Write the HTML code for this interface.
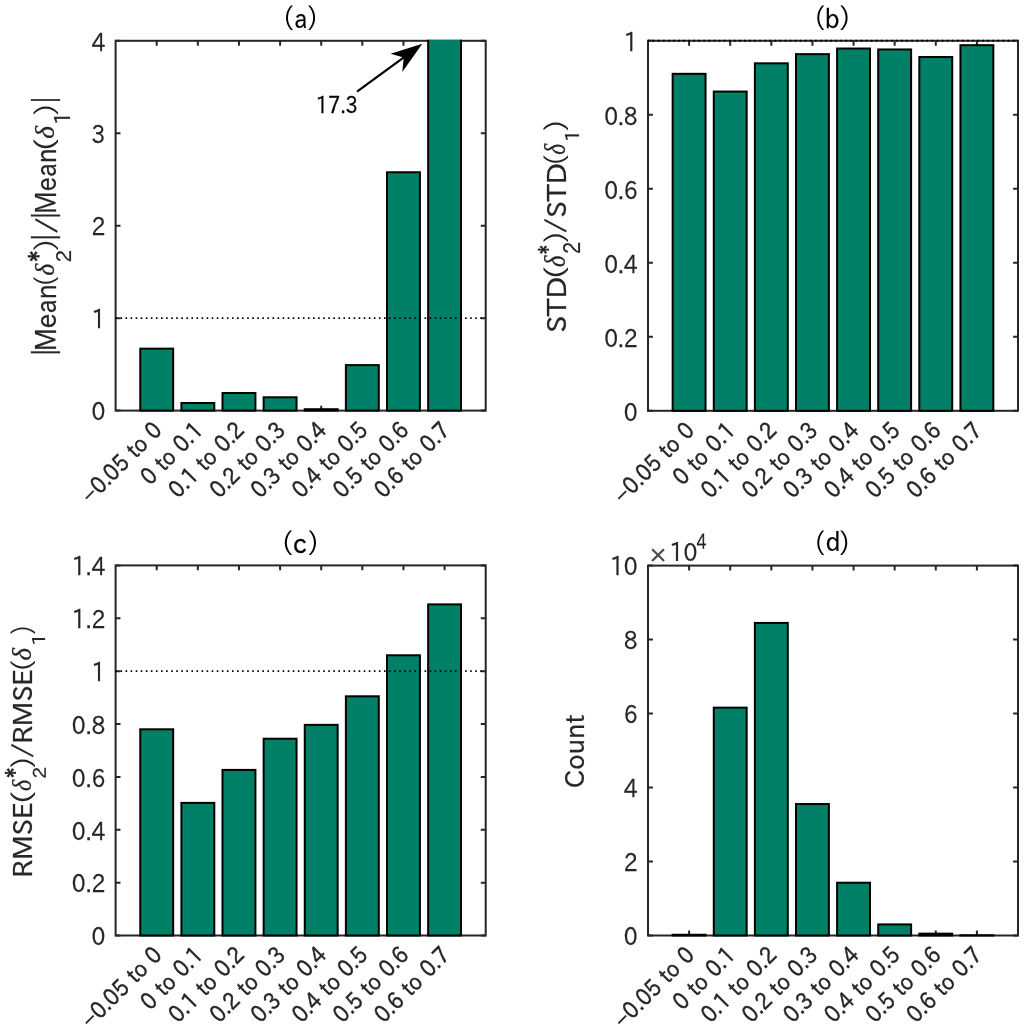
<!DOCTYPE html>
<html><head><meta charset="utf-8"><title>Figure</title>
<style>
html,body{margin:0;padding:0;background:#fff;overflow:hidden}
svg{display:block}
.t{fill:#262626}
.k{fill:#000}
.t,.k{stroke-width:0.25}
.t{stroke:#262626}
.k{stroke:#000}
.t.sx{stroke-width:0.45;word-spacing:1.6px}
.tx{fill:#4a4a4a}
.np{stroke:none}
</style></head><body>
<svg width="1024" height="1031" viewBox="0 0 1024 1031">
<rect width="1024" height="1031" fill="#fff"/>
<g id="axa">
<rect x="115.6" y="40.8" width="370.1" height="369.8" fill="none" stroke="#262626" stroke-width="2.0"/>
<path d="M156.722 410.6v-4.9M156.722 40.8v4.9M197.844 410.6v-4.9M197.844 40.8v4.9M238.967 410.6v-4.9M238.967 40.8v4.9M280.089 410.6v-4.9M280.089 40.8v4.9M321.211 410.6v-4.9M321.211 40.8v4.9M362.333 410.6v-4.9M362.333 40.8v4.9M403.456 410.6v-4.9M403.456 40.8v4.9M444.578 410.6v-4.9M444.578 40.8v4.9M115.6 410.6h4.9M485.7 410.6h-4.9M115.6 318.15h4.9M485.7 318.15h-4.9M115.6 225.7h4.9M485.7 225.7h-4.9M115.6 133.25h4.9M485.7 133.25h-4.9M115.6 40.8h4.9M485.7 40.8h-4.9" stroke="#262626" stroke-width="2.0" fill="none"/>
<clipPath id="cpa"><rect x="114.6" y="39.7" width="372.1" height="372.8"/></clipPath>
<g clip-path="url(#cpa)" fill="#008066" stroke="#000" stroke-width="2.0">
<rect x="140.273" y="348.659" width="32.898" height="61.942"/>
<rect x="181.396" y="403.019" width="32.898" height="7.581"/>
<rect x="222.518" y="393.035" width="32.898" height="17.565"/>
<rect x="263.64" y="397.287" width="32.898" height="13.313"/>
<rect x="304.762" y="409.213" width="32.898" height="1.387"/>
<rect x="345.884" y="365.115" width="32.898" height="45.485"/>
<rect x="387.007" y="172.264" width="32.898" height="238.336"/>
<rect x="428.129" y="35.8" width="32.898" height="374.8"/>
</g>
<line x1="115.6" y1="318.15" x2="485.7" y2="318.15" stroke="#000" stroke-width="1.9" stroke-dasharray="1.6 3.468" stroke-dashoffset="0.206"/>
<text class="t" transform="translate(105.3,420.35) scale(0.89,1)" font-size="24.7" font-family='"IPAPGothic","IPAGothic","Noto Sans CJK JP",sans-serif' text-anchor="end">0</text>
<text class="t" transform="translate(105.3,327.9) scale(0.89,1)" font-size="24.7" font-family='"IPAPGothic","IPAGothic","Noto Sans CJK JP",sans-serif' text-anchor="end">1</text>
<text class="t" transform="translate(105.3,235.45) scale(0.89,1)" font-size="24.7" font-family='"IPAPGothic","IPAGothic","Noto Sans CJK JP",sans-serif' text-anchor="end">2</text>
<text class="t" transform="translate(105.3,143) scale(0.89,1)" font-size="24.7" font-family='"IPAPGothic","IPAGothic","Noto Sans CJK JP",sans-serif' text-anchor="end">3</text>
<text class="t" transform="translate(105.3,50.55) scale(0.89,1)" font-size="24.7" font-family='"IPAPGothic","IPAGothic","Noto Sans CJK JP",sans-serif' text-anchor="end">4</text>
<text class="t sx" transform="translate(163.422,431.6) rotate(-45) scale(0.88,1)" font-size="23.25" font-family='"IPAPGothic","IPAGothic","Noto Sans CJK JP",sans-serif' text-anchor="end">−0.05 to 0</text>
<text class="t sx" transform="translate(204.544,431.6) rotate(-45) scale(0.88,1)" font-size="23.25" font-family='"IPAPGothic","IPAGothic","Noto Sans CJK JP",sans-serif' text-anchor="end">0 to 0.1</text>
<text class="t sx" transform="translate(245.667,431.6) rotate(-45) scale(0.88,1)" font-size="23.25" font-family='"IPAPGothic","IPAGothic","Noto Sans CJK JP",sans-serif' text-anchor="end">0.1 to 0.2</text>
<text class="t sx" transform="translate(286.789,431.6) rotate(-45) scale(0.88,1)" font-size="23.25" font-family='"IPAPGothic","IPAGothic","Noto Sans CJK JP",sans-serif' text-anchor="end">0.2 to 0.3</text>
<text class="t sx" transform="translate(327.911,431.6) rotate(-45) scale(0.88,1)" font-size="23.25" font-family='"IPAPGothic","IPAGothic","Noto Sans CJK JP",sans-serif' text-anchor="end">0.3 to 0.4</text>
<text class="t sx" transform="translate(369.033,431.6) rotate(-45) scale(0.88,1)" font-size="23.25" font-family='"IPAPGothic","IPAGothic","Noto Sans CJK JP",sans-serif' text-anchor="end">0.4 to 0.5</text>
<text class="t sx" transform="translate(410.156,431.6) rotate(-45) scale(0.88,1)" font-size="23.25" font-family='"IPAPGothic","IPAGothic","Noto Sans CJK JP",sans-serif' text-anchor="end">0.5 to 0.6</text>
<text class="t sx" transform="translate(451.278,431.6) rotate(-45) scale(0.88,1)" font-size="23.25" font-family='"IPAPGothic","IPAGothic","Noto Sans CJK JP",sans-serif' text-anchor="end">0.6 to 0.7</text>
</g>
<g id="axb">
<rect x="648" y="40.75" width="370" height="370.05" fill="none" stroke="#262626" stroke-width="2.0"/>
<path d="M689.111 410.8v-4.9M689.111 40.75v4.9M730.222 410.8v-4.9M730.222 40.75v4.9M771.333 410.8v-4.9M771.333 40.75v4.9M812.444 410.8v-4.9M812.444 40.75v4.9M853.556 410.8v-4.9M853.556 40.75v4.9M894.667 410.8v-4.9M894.667 40.75v4.9M935.778 410.8v-4.9M935.778 40.75v4.9M976.889 410.8v-4.9M976.889 40.75v4.9M648 410.8h4.9M1018 410.8h-4.9M648 336.79h4.9M1018 336.79h-4.9M648 262.78h4.9M1018 262.78h-4.9M648 188.77h4.9M1018 188.77h-4.9M648 114.76h4.9M1018 114.76h-4.9M648 40.75h4.9M1018 40.75h-4.9" stroke="#262626" stroke-width="2.0" fill="none"/>
<clipPath id="cpb"><rect x="647" y="39.65" width="372" height="373.05"/></clipPath>
<g clip-path="url(#cpb)" fill="#008066" stroke="#000" stroke-width="2.0">
<rect x="672.667" y="73.832" width="32.889" height="336.968"/>
<rect x="713.778" y="91.558" width="32.889" height="319.242"/>
<rect x="754.889" y="63.323" width="32.889" height="347.477"/>
<rect x="796" y="54.146" width="32.889" height="356.654"/>
<rect x="837.111" y="48.521" width="32.889" height="362.279"/>
<rect x="878.222" y="49.446" width="32.889" height="361.354"/>
<rect x="919.333" y="57.032" width="32.889" height="353.768"/>
<rect x="960.444" y="45.191" width="32.889" height="365.609"/>
</g>
<line x1="648" y1="40.75" x2="1018" y2="40.75" stroke="#000" stroke-width="1.9" stroke-dasharray="1.6 3.468" stroke-dashoffset="0.206"/>
<text class="t" transform="translate(637.7,420.55) scale(0.89,1)" font-size="24.7" font-family='"IPAPGothic","IPAGothic","Noto Sans CJK JP",sans-serif' text-anchor="end">0</text>
<text class="t" transform="translate(637.7,346.54) scale(0.89,1)" font-size="24.7" font-family='"IPAPGothic","IPAGothic","Noto Sans CJK JP",sans-serif' text-anchor="end">0.2</text>
<text class="t" transform="translate(637.7,272.53) scale(0.89,1)" font-size="24.7" font-family='"IPAPGothic","IPAGothic","Noto Sans CJK JP",sans-serif' text-anchor="end">0.4</text>
<text class="t" transform="translate(637.7,198.52) scale(0.89,1)" font-size="24.7" font-family='"IPAPGothic","IPAGothic","Noto Sans CJK JP",sans-serif' text-anchor="end">0.6</text>
<text class="t" transform="translate(637.7,124.51) scale(0.89,1)" font-size="24.7" font-family='"IPAPGothic","IPAGothic","Noto Sans CJK JP",sans-serif' text-anchor="end">0.8</text>
<text class="t" transform="translate(637.7,50.5) scale(0.89,1)" font-size="24.7" font-family='"IPAPGothic","IPAGothic","Noto Sans CJK JP",sans-serif' text-anchor="end">1</text>
<text class="t sx" transform="translate(695.811,431.8) rotate(-45) scale(0.88,1)" font-size="23.25" font-family='"IPAPGothic","IPAGothic","Noto Sans CJK JP",sans-serif' text-anchor="end">−0.05 to 0</text>
<text class="t sx" transform="translate(736.922,431.8) rotate(-45) scale(0.88,1)" font-size="23.25" font-family='"IPAPGothic","IPAGothic","Noto Sans CJK JP",sans-serif' text-anchor="end">0 to 0.1</text>
<text class="t sx" transform="translate(778.033,431.8) rotate(-45) scale(0.88,1)" font-size="23.25" font-family='"IPAPGothic","IPAGothic","Noto Sans CJK JP",sans-serif' text-anchor="end">0.1 to 0.2</text>
<text class="t sx" transform="translate(819.144,431.8) rotate(-45) scale(0.88,1)" font-size="23.25" font-family='"IPAPGothic","IPAGothic","Noto Sans CJK JP",sans-serif' text-anchor="end">0.2 to 0.3</text>
<text class="t sx" transform="translate(860.256,431.8) rotate(-45) scale(0.88,1)" font-size="23.25" font-family='"IPAPGothic","IPAGothic","Noto Sans CJK JP",sans-serif' text-anchor="end">0.3 to 0.4</text>
<text class="t sx" transform="translate(901.367,431.8) rotate(-45) scale(0.88,1)" font-size="23.25" font-family='"IPAPGothic","IPAGothic","Noto Sans CJK JP",sans-serif' text-anchor="end">0.4 to 0.5</text>
<text class="t sx" transform="translate(942.478,431.8) rotate(-45) scale(0.88,1)" font-size="23.25" font-family='"IPAPGothic","IPAGothic","Noto Sans CJK JP",sans-serif' text-anchor="end">0.5 to 0.6</text>
<text class="t sx" transform="translate(983.589,431.8) rotate(-45) scale(0.88,1)" font-size="23.25" font-family='"IPAPGothic","IPAGothic","Noto Sans CJK JP",sans-serif' text-anchor="end">0.6 to 0.7</text>
</g>
<g id="axc">
<rect x="115.6" y="565.4" width="370.1" height="370.1" fill="none" stroke="#262626" stroke-width="2.0"/>
<path d="M156.722 935.5v-4.9M156.722 565.4v4.9M197.844 935.5v-4.9M197.844 565.4v4.9M238.967 935.5v-4.9M238.967 565.4v4.9M280.089 935.5v-4.9M280.089 565.4v4.9M321.211 935.5v-4.9M321.211 565.4v4.9M362.333 935.5v-4.9M362.333 565.4v4.9M403.456 935.5v-4.9M403.456 565.4v4.9M444.578 935.5v-4.9M444.578 565.4v4.9M115.6 935.5h4.9M485.7 935.5h-4.9M115.6 882.629h4.9M485.7 882.629h-4.9M115.6 829.757h4.9M485.7 829.757h-4.9M115.6 776.886h4.9M485.7 776.886h-4.9M115.6 724.014h4.9M485.7 724.014h-4.9M115.6 671.143h4.9M485.7 671.143h-4.9M115.6 618.271h4.9M485.7 618.271h-4.9M115.6 565.4h4.9M485.7 565.4h-4.9" stroke="#262626" stroke-width="2.0" fill="none"/>
<clipPath id="cpc"><rect x="114.6" y="564.3" width="372.1" height="373.1"/></clipPath>
<g clip-path="url(#cpc)" fill="#008066" stroke="#000" stroke-width="2.0">
<rect x="140.273" y="729.301" width="32.898" height="206.199"/>
<rect x="181.396" y="802.898" width="32.898" height="132.602"/>
<rect x="222.518" y="769.907" width="32.898" height="165.593"/>
<rect x="263.64" y="738.713" width="32.898" height="196.787"/>
<rect x="304.762" y="724.86" width="32.898" height="210.64"/>
<rect x="345.884" y="696.31" width="32.898" height="239.19"/>
<rect x="387.007" y="655.281" width="32.898" height="280.219"/>
<rect x="428.129" y="604.393" width="32.898" height="331.107"/>
</g>
<line x1="115.6" y1="671.143" x2="485.7" y2="671.143" stroke="#000" stroke-width="1.9" stroke-dasharray="1.6 3.468" stroke-dashoffset="0.206"/>
<text class="t" transform="translate(105.3,945.25) scale(0.89,1)" font-size="24.7" font-family='"IPAPGothic","IPAGothic","Noto Sans CJK JP",sans-serif' text-anchor="end">0</text>
<text class="t" transform="translate(105.3,892.379) scale(0.89,1)" font-size="24.7" font-family='"IPAPGothic","IPAGothic","Noto Sans CJK JP",sans-serif' text-anchor="end">0.2</text>
<text class="t" transform="translate(105.3,839.507) scale(0.89,1)" font-size="24.7" font-family='"IPAPGothic","IPAGothic","Noto Sans CJK JP",sans-serif' text-anchor="end">0.4</text>
<text class="t" transform="translate(105.3,786.636) scale(0.89,1)" font-size="24.7" font-family='"IPAPGothic","IPAGothic","Noto Sans CJK JP",sans-serif' text-anchor="end">0.6</text>
<text class="t" transform="translate(105.3,733.764) scale(0.89,1)" font-size="24.7" font-family='"IPAPGothic","IPAGothic","Noto Sans CJK JP",sans-serif' text-anchor="end">0.8</text>
<text class="t" transform="translate(105.3,680.893) scale(0.89,1)" font-size="24.7" font-family='"IPAPGothic","IPAGothic","Noto Sans CJK JP",sans-serif' text-anchor="end">1</text>
<text class="t" transform="translate(105.3,628.021) scale(0.89,1)" font-size="24.7" font-family='"IPAPGothic","IPAGothic","Noto Sans CJK JP",sans-serif' text-anchor="end">1.2</text>
<text class="t" transform="translate(105.3,575.15) scale(0.89,1)" font-size="24.7" font-family='"IPAPGothic","IPAGothic","Noto Sans CJK JP",sans-serif' text-anchor="end">1.4</text>
<text class="t sx" transform="translate(163.422,956.5) rotate(-45) scale(0.88,1)" font-size="23.25" font-family='"IPAPGothic","IPAGothic","Noto Sans CJK JP",sans-serif' text-anchor="end">−0.05 to 0</text>
<text class="t sx" transform="translate(204.544,956.5) rotate(-45) scale(0.88,1)" font-size="23.25" font-family='"IPAPGothic","IPAGothic","Noto Sans CJK JP",sans-serif' text-anchor="end">0 to 0.1</text>
<text class="t sx" transform="translate(245.667,956.5) rotate(-45) scale(0.88,1)" font-size="23.25" font-family='"IPAPGothic","IPAGothic","Noto Sans CJK JP",sans-serif' text-anchor="end">0.1 to 0.2</text>
<text class="t sx" transform="translate(286.789,956.5) rotate(-45) scale(0.88,1)" font-size="23.25" font-family='"IPAPGothic","IPAGothic","Noto Sans CJK JP",sans-serif' text-anchor="end">0.2 to 0.3</text>
<text class="t sx" transform="translate(327.911,956.5) rotate(-45) scale(0.88,1)" font-size="23.25" font-family='"IPAPGothic","IPAGothic","Noto Sans CJK JP",sans-serif' text-anchor="end">0.3 to 0.4</text>
<text class="t sx" transform="translate(369.033,956.5) rotate(-45) scale(0.88,1)" font-size="23.25" font-family='"IPAPGothic","IPAGothic","Noto Sans CJK JP",sans-serif' text-anchor="end">0.4 to 0.5</text>
<text class="t sx" transform="translate(410.156,956.5) rotate(-45) scale(0.88,1)" font-size="23.25" font-family='"IPAPGothic","IPAGothic","Noto Sans CJK JP",sans-serif' text-anchor="end">0.5 to 0.6</text>
<text class="t sx" transform="translate(451.278,956.5) rotate(-45) scale(0.88,1)" font-size="23.25" font-family='"IPAPGothic","IPAGothic","Noto Sans CJK JP",sans-serif' text-anchor="end">0.6 to 0.7</text>
</g>
<g id="axd">
<rect x="648" y="565.6" width="370" height="369.9" fill="none" stroke="#262626" stroke-width="2.0"/>
<path d="M689.111 935.5v-4.9M689.111 565.6v4.9M730.222 935.5v-4.9M730.222 565.6v4.9M771.333 935.5v-4.9M771.333 565.6v4.9M812.444 935.5v-4.9M812.444 565.6v4.9M853.556 935.5v-4.9M853.556 565.6v4.9M894.667 935.5v-4.9M894.667 565.6v4.9M935.778 935.5v-4.9M935.778 565.6v4.9M976.889 935.5v-4.9M976.889 565.6v4.9M648 935.5h4.9M1018 935.5h-4.9M648 861.52h4.9M1018 861.52h-4.9M648 787.54h4.9M1018 787.54h-4.9M648 713.56h4.9M1018 713.56h-4.9M648 639.58h4.9M1018 639.58h-4.9M648 565.6h4.9M1018 565.6h-4.9" stroke="#262626" stroke-width="2.0" fill="none"/>
<clipPath id="cpd"><rect x="647" y="564.5" width="372" height="372.9"/></clipPath>
<g clip-path="url(#cpd)" fill="#008066" stroke="#000" stroke-width="2.0">
<rect x="672.667" y="934.76" width="32.889" height="0.74"/>
<rect x="713.778" y="707.642" width="32.889" height="227.858"/>
<rect x="754.889" y="622.935" width="32.889" height="312.565"/>
<rect x="796" y="804.038" width="32.889" height="131.462"/>
<rect x="837.111" y="882.715" width="32.889" height="52.785"/>
<rect x="878.222" y="924.403" width="32.889" height="11.097"/>
<rect x="919.333" y="933.65" width="32.889" height="1.85"/>
<rect x="960.444" y="935.315" width="32.889" height="0.185"/>
</g>
<text class="t" transform="translate(637.7,945.25) scale(0.89,1)" font-size="24.7" font-family='"IPAPGothic","IPAGothic","Noto Sans CJK JP",sans-serif' text-anchor="end">0</text>
<text class="t" transform="translate(637.7,871.27) scale(0.89,1)" font-size="24.7" font-family='"IPAPGothic","IPAGothic","Noto Sans CJK JP",sans-serif' text-anchor="end">2</text>
<text class="t" transform="translate(637.7,797.29) scale(0.89,1)" font-size="24.7" font-family='"IPAPGothic","IPAGothic","Noto Sans CJK JP",sans-serif' text-anchor="end">4</text>
<text class="t" transform="translate(637.7,723.31) scale(0.89,1)" font-size="24.7" font-family='"IPAPGothic","IPAGothic","Noto Sans CJK JP",sans-serif' text-anchor="end">6</text>
<text class="t" transform="translate(637.7,649.33) scale(0.89,1)" font-size="24.7" font-family='"IPAPGothic","IPAGothic","Noto Sans CJK JP",sans-serif' text-anchor="end">8</text>
<text class="t" transform="translate(637.7,575.35) scale(0.89,1)" font-size="24.7" font-family='"IPAPGothic","IPAGothic","Noto Sans CJK JP",sans-serif' text-anchor="end">10</text>
<text class="t sx" transform="translate(695.811,956.5) rotate(-45) scale(0.88,1)" font-size="23.25" font-family='"IPAPGothic","IPAGothic","Noto Sans CJK JP",sans-serif' text-anchor="end">−0.05 to 0</text>
<text class="t sx" transform="translate(736.922,956.5) rotate(-45) scale(0.88,1)" font-size="23.25" font-family='"IPAPGothic","IPAGothic","Noto Sans CJK JP",sans-serif' text-anchor="end">0 to 0.1</text>
<text class="t sx" transform="translate(778.033,956.5) rotate(-45) scale(0.88,1)" font-size="23.25" font-family='"IPAPGothic","IPAGothic","Noto Sans CJK JP",sans-serif' text-anchor="end">0.1 to 0.2</text>
<text class="t sx" transform="translate(819.144,956.5) rotate(-45) scale(0.88,1)" font-size="23.25" font-family='"IPAPGothic","IPAGothic","Noto Sans CJK JP",sans-serif' text-anchor="end">0.2 to 0.3</text>
<text class="t sx" transform="translate(860.256,956.5) rotate(-45) scale(0.88,1)" font-size="23.25" font-family='"IPAPGothic","IPAGothic","Noto Sans CJK JP",sans-serif' text-anchor="end">0.3 to 0.4</text>
<text class="t sx" transform="translate(901.367,956.5) rotate(-45) scale(0.88,1)" font-size="23.25" font-family='"IPAPGothic","IPAGothic","Noto Sans CJK JP",sans-serif' text-anchor="end">0.4 to 0.5</text>
<text class="t sx" transform="translate(942.478,956.5) rotate(-45) scale(0.88,1)" font-size="23.25" font-family='"IPAPGothic","IPAGothic","Noto Sans CJK JP",sans-serif' text-anchor="end">0.5 to 0.6</text>
<text class="t sx" transform="translate(983.589,956.5) rotate(-45) scale(0.88,1)" font-size="23.25" font-family='"IPAPGothic","IPAGothic","Noto Sans CJK JP",sans-serif' text-anchor="end">0.6 to 0.7</text>
</g>
<g id="titles"><text class="k np" transform="translate(281.977,28.287) scale(0.991,1.051)" font-size="26" font-family='"IPAGothic","IPAPGothic","Noto Sans CJK JP",sans-serif'>(</text>
<text class="k" transform="translate(294.307,27.5) scale(0.918,0.991)" font-size="26" font-family='"IPAPGothic","IPAGothic","Noto Sans CJK JP",sans-serif'>a</text>
<text class="k np" transform="translate(306.338,28.287) scale(0.991,1.051)" font-size="26" font-family='"IPAGothic","IPAPGothic","Noto Sans CJK JP",sans-serif'>)</text>
<text class="k np" transform="translate(813.177,28.287) scale(0.991,1.051)" font-size="26" font-family='"IPAGothic","IPAPGothic","Noto Sans CJK JP",sans-serif'>(</text>
<text class="k" transform="translate(824.863,27.8) scale(0.913,1.005)" font-size="26" font-family='"IPAPGothic","IPAGothic","Noto Sans CJK JP",sans-serif'>b</text>
<text class="k np" transform="translate(838.215,28.287) scale(1.05,1.051)" font-size="26" font-family='"IPAGothic","IPAPGothic","Noto Sans CJK JP",sans-serif'>)</text>
<text class="k np" transform="translate(280.531,552.687) scale(1.05,1.051)" font-size="26" font-family='"IPAGothic","IPAPGothic","Noto Sans CJK JP",sans-serif'>(</text>
<text class="k" transform="translate(293.028,552.8) scale(0.978,1.001)" font-size="26" font-family='"IPAPGothic","IPAGothic","Noto Sans CJK JP",sans-serif'>c</text>
<text class="k np" transform="translate(306.846,552.687) scale(1.036,1.051)" font-size="26" font-family='"IPAGothic","IPAPGothic","Noto Sans CJK JP",sans-serif'>)</text>
<text class="k np" transform="translate(813.177,552.687) scale(0.991,1.051)" font-size="26" font-family='"IPAGothic","IPAPGothic","Noto Sans CJK JP",sans-serif'>(</text>
<text class="k" transform="translate(825.813,551) scale(0.913,0.99)" font-size="26" font-family='"IPAPGothic","IPAGothic","Noto Sans CJK JP",sans-serif'>d</text>
<text class="k np" transform="translate(838.308,552.687) scale(1.006,1.051)" font-size="26" font-family='"IPAGothic","IPAPGothic","Noto Sans CJK JP",sans-serif'>)</text></g>
<g id="ylabels"><text class="t" transform="translate(54.763,355.05) rotate(-90) scale(1,1.173)" font-size="27.5" font-family='"IPAPGothic","IPAGothic","Noto Sans CJK JP",sans-serif'>|</text>
<text class="t" transform="translate(56,351.374) rotate(-90) scale(0.936,1.005)" font-size="27.5" font-family='"IPAPGothic","IPAGothic","Noto Sans CJK JP",sans-serif'>Mean</text>
<text class="t np" transform="translate(56.294,287.538) rotate(-90) scale(0.895,0.99)" font-size="27.5" font-family='"IPAGothic","IPAPGothic","Noto Sans CJK JP",sans-serif'>(</text>
<text class="t" transform="translate(54.437,275.673) rotate(-90) scale(0.937,0.958)" font-size="27.5" font-family='"Liberation Serif","DejaVu Serif",serif' font-style="italic">δ</text>
<text class="t" transform="translate(70.603,262.4) rotate(-90) scale(0.727,0.737)" font-size="27.5" font-family='"IPAPGothic","IPAGothic","Noto Sans CJK JP",sans-serif'>2</text>
<text class="t" transform="translate(56.176,262.297) rotate(-90) scale(1.179,1.392)" font-size="27.5" font-family='"IPAPGothic","IPAGothic","Noto Sans CJK JP",sans-serif'>*</text>
<text class="t np" transform="translate(56.294,252.423) rotate(-90) scale(1.147,0.99)" font-size="27.5" font-family='"IPAGothic","IPAPGothic","Noto Sans CJK JP",sans-serif'>)</text>
<text class="t" transform="translate(54.763,239.95) rotate(-90) scale(1,1.173)" font-size="27.5" font-family='"IPAPGothic","IPAGothic","Noto Sans CJK JP",sans-serif'>|</text>
<text class="t" transform="translate(53.58,234.365) rotate(-90) scale(1.356,0.901)" font-size="27.5" font-family='"IPAPGothic","IPAGothic","Noto Sans CJK JP",sans-serif'>/</text>
<text class="t" transform="translate(54.763,218.15) rotate(-90) scale(1,1.173)" font-size="27.5" font-family='"IPAPGothic","IPAGothic","Noto Sans CJK JP",sans-serif'>|</text>
<text class="t" transform="translate(56,213.904) rotate(-90) scale(0.911,1.005)" font-size="27.5" font-family='"IPAPGothic","IPAGothic","Noto Sans CJK JP",sans-serif'>Mean</text>
<text class="t np" transform="translate(56.294,153.454) rotate(-90) scale(1.217,0.99)" font-size="27.5" font-family='"IPAGothic","IPAPGothic","Noto Sans CJK JP",sans-serif'>(</text>
<text class="t" transform="translate(54.437,138.72) rotate(-90) scale(0.994,0.958)" font-size="27.5" font-family='"Liberation Serif","DejaVu Serif",serif' font-style="italic">δ</text>
<text class="t" transform="translate(69.999,124.963) rotate(-90) scale(0.781,0.722)" font-size="27.5" font-family='"IPAPGothic","IPAGothic","Noto Sans CJK JP",sans-serif'>1</text>
<text class="t np" transform="translate(56.294,117.062) rotate(-90) scale(1.119,0.99)" font-size="27.5" font-family='"IPAGothic","IPAPGothic","Noto Sans CJK JP",sans-serif'>)</text>
<text class="t" transform="translate(54.763,102.8) rotate(-90) scale(1,1.173)" font-size="27.5" font-family='"IPAPGothic","IPAGothic","Noto Sans CJK JP",sans-serif'>|</text>
<text class="t" transform="translate(565.7,332.848) rotate(-90) scale(1.053,0.978)" font-size="27.5" font-family='"IPAPGothic","IPAGothic","Noto Sans CJK JP",sans-serif'>STD</text>
<text class="t np" transform="translate(565.956,281.454) rotate(-90) scale(1.217,1.01)" font-size="27.5" font-family='"IPAGothic","IPAPGothic","Noto Sans CJK JP",sans-serif'>(</text>
<text class="t" transform="translate(564.714,266.933) rotate(-90) scale(0.889,1.04)" font-size="27.5" font-family='"Liberation Serif","DejaVu Serif",serif' font-style="italic">δ</text>
<text class="t" transform="translate(580.419,254.186) rotate(-90) scale(0.72,0.798)" font-size="27.5" font-family='"IPAPGothic","IPAGothic","Noto Sans CJK JP",sans-serif'>2</text>
<text class="t" transform="translate(564.217,254.448) rotate(-90) scale(0.953,1.292)" font-size="27.5" font-family='"IPAPGothic","IPAGothic","Noto Sans CJK JP",sans-serif'>*</text>
<text class="t np" transform="translate(565.956,244.138) rotate(-90) scale(1.063,1.01)" font-size="27.5" font-family='"IPAGothic","IPAPGothic","Noto Sans CJK JP",sans-serif'>)</text>
<text class="t" transform="translate(562.513,233.63) rotate(-90) scale(1.258,0.864)" font-size="27.5" font-family='"IPAPGothic","IPAGothic","Noto Sans CJK JP",sans-serif'>/</text>
<text class="t" transform="translate(565.7,217.715) rotate(-90) scale(1.029,0.978)" font-size="27.5" font-family='"IPAPGothic","IPAGothic","Noto Sans CJK JP",sans-serif'>STD</text>
<text class="t np" transform="translate(565.956,167.008) rotate(-90) scale(0.979,1.01)" font-size="27.5" font-family='"IPAGothic","IPAPGothic","Noto Sans CJK JP",sans-serif'>(</text>
<text class="t" transform="translate(564.714,154.7) rotate(-90) scale(0.848,1.04)" font-size="27.5" font-family='"Liberation Serif","DejaVu Serif",serif' font-style="italic">δ</text>
<text class="t" transform="translate(579.194,142.119) rotate(-90) scale(0.7,0.707)" font-size="27.5" font-family='"IPAPGothic","IPAGothic","Noto Sans CJK JP",sans-serif'>1</text>
<text class="t np" transform="translate(565.956,132.408) rotate(-90) scale(1.049,1.01)" font-size="27.5" font-family='"IPAGothic","IPAPGothic","Noto Sans CJK JP",sans-serif'>)</text>
<text class="t" transform="translate(31.5,877.853) rotate(-90) scale(1.001,0.993)" font-size="27.5" font-family='"IPAPGothic","IPAGothic","Noto Sans CJK JP",sans-serif'>RMSE</text>
<text class="t np" transform="translate(32.64,806.515) rotate(-90) scale(1.231,1.018)" font-size="27.5" font-family='"IPAGothic","IPAPGothic","Noto Sans CJK JP",sans-serif'>(</text>
<text class="t" transform="translate(30.721,790.92) rotate(-90) scale(0.873,1.014)" font-size="27.5" font-family='"Liberation Serif","DejaVu Serif",serif' font-style="italic">δ</text>
<text class="t" transform="translate(45.879,778.63) rotate(-90) scale(0.691,0.652)" font-size="27.5" font-family='"IPAPGothic","IPAGothic","Noto Sans CJK JP",sans-serif'>2</text>
<text class="t" transform="translate(30.672,778.514) rotate(-90) scale(1.103,1.279)" font-size="27.5" font-family='"IPAPGothic","IPAGothic","Noto Sans CJK JP",sans-serif'>*</text>
<text class="t np" transform="translate(32.64,769.508) rotate(-90) scale(1.049,1.018)" font-size="27.5" font-family='"IPAGothic","IPAPGothic","Noto Sans CJK JP",sans-serif'>)</text>
<text class="t" transform="translate(29.594,758.743) rotate(-90) scale(1.268,0.897)" font-size="27.5" font-family='"IPAPGothic","IPAGothic","Noto Sans CJK JP",sans-serif'>/</text>
<text class="t" transform="translate(31.5,743.826) rotate(-90) scale(0.991,0.993)" font-size="27.5" font-family='"IPAPGothic","IPAGothic","Noto Sans CJK JP",sans-serif'>RMSE</text>
<text class="t np" transform="translate(32.64,673.277) rotate(-90) scale(1.063,1.018)" font-size="27.5" font-family='"IPAGothic","IPAPGothic","Noto Sans CJK JP",sans-serif'>(</text>
<text class="t" transform="translate(30.721,660.6) rotate(-90) scale(0.97,1.014)" font-size="27.5" font-family='"Liberation Serif","DejaVu Serif",serif' font-style="italic">δ</text>
<text class="t" transform="translate(45.475,646.322) rotate(-90) scale(0.768,0.636)" font-size="27.5" font-family='"IPAPGothic","IPAGothic","Noto Sans CJK JP",sans-serif'>1</text>
<text class="t np" transform="translate(32.64,635.838) rotate(-90) scale(0.881,1.018)" font-size="27.5" font-family='"IPAGothic","IPAPGothic","Noto Sans CJK JP",sans-serif'>)</text>
<text class="t" transform="translate(584.4,788.282) rotate(-90) scale(0.929,0.988)" font-size="27.5" font-family='"IPAPGothic","IPAGothic","Noto Sans CJK JP",sans-serif'>Count</text></g>
<g id="ann"><line x1="357" y1="91.6" x2="404.5" y2="56.8" stroke="#000" stroke-width="2.2"/><path d="M422.3 43.8L390.6 53.8L403.7 57.4L402.3 72.1Z" fill="#000"/><text class="k" transform="translate(315.745,112.8) scale(0.871,1.003)" font-size="22.5" font-family='"IPAPGothic","IPAGothic","Noto Sans CJK JP",sans-serif'>17.3</text></g>
<g id="exp"><text class="tx" transform="translate(649.184,564.9) scale(1.374,1.364)" font-size="22" font-family='"Liberation Sans",sans-serif'>×</text><text class="t" transform="translate(669.575,561.25) scale(0.893,0.982)" font-size="24.7" font-family='"IPAPGothic","IPAGothic","Noto Sans CJK JP",sans-serif'>10</text><text class="t" transform="translate(696.526,548.959) scale(0.789,1.046)" font-size="20" font-family='"IPAPGothic","IPAGothic","Noto Sans CJK JP",sans-serif'>4</text></g>
</svg>
</body></html>
